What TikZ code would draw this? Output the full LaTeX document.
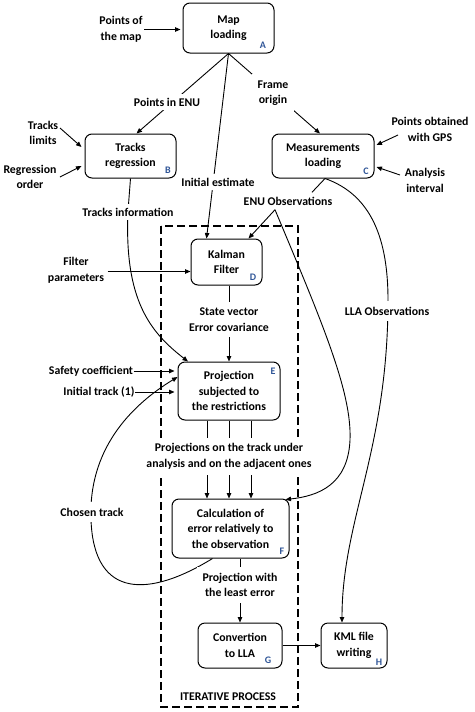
\documentclass[tikz,border=0pt]{standalone}
\usepackage{fontspec}
\setmainfont{Carlito}
\usetikzlibrary{arrows.meta,calc}
\definecolor{lblue}{HTML}{2F5597}
\begin{document}
\begin{tikzpicture}[x=1pt,y=-1pt,
  font=\fontsize{11.8}{15.5}\selectfont\bfseries,
  box/.style={draw,line width=1pt,rounded corners=7pt,align=center,inner sep=0pt},
  lbl/.style={align=center,fill=white,inner sep=4pt},
  tag/.style={text=lblue,font=\fontsize{10}{10}\selectfont\bfseries,inner sep=0pt},
  arr/.style={line width=0.9pt,-{Triangle[length=5.5pt,width=4.5pt]}},
  ln/.style={line width=0.9pt}]
\useasboundingbox (0,0) rectangle (474,712);
% dashed iterative frame
\draw[line width=1.6pt,dash pattern=on 8pt off 4pt] (161,226) rectangle (298,707);
% boxes
\node[box,minimum width=91pt,minimum height=50pt] (A) at (228.5,28) {Map\\loading};
\node[box,minimum width=91pt,minimum height=44pt] (B) at (130.5,156) {Tracks\\regression};
\node[box,minimum width=102pt,minimum height=44pt] (C) at (323,156) {Measurements\\loading};
\node[box,minimum width=71pt,minimum height=46pt] (D) at (226.5,262) {Kalman\\Filter};
\node[box,minimum width=102pt,minimum height=58pt] (E) at (229,391) {Projection\\subjected to\\the restrictions};
\node[box,minimum width=117pt,minimum height=59pt] (F) at (230.5,528.5) {Calculation of\\error relatively to\\the observation};
\node[box,minimum width=84pt,minimum height=45pt] (G) at (240,645.5) {Convertion\\to LLA};
\node[box,minimum width=66pt,minimum height=45pt] (H) at (354,645.5) {KML file\\writing};
% letter tags
\node[tag] (tA) at (263,45) {A};
\node[tag] (tB) at (168,170) {B};
\node[tag] (tC) at (366,171) {C};
\node[tag] (tD) at (253,277) {D};
\node[tag] (tE) at (273,371) {E};
\node[tag] (tF) at (282,551) {F};
\node[tag] (tG) at (268,660) {G};
\node[tag] (tH) at (379,662) {H};
% plain input texts
\node[align=center] (pmap) at (121,29.5) {Points of\\the map};
\node[align=center] (tlim) at (43,133) {Tracks\\limits};
\node[align=center] (rord) at (30,177) {Regression\\order};
\node[align=center] (pgps) at (430,129.5) {Points obtained\\with GPS};
\node[align=center] (aint) at (425,180.5) {Analysis\\interval};
\node[align=center] (fpar) at (76,270.5) {Filter\\parameters};
\node[align=center] (safe) at (91,371) {Safety coefficient};
\node[align=center] (itrk) at (99,392) {Initial track (1)};
\node (iter) at (228,697) {ITERATIVE PROCESS};
% input arrows
\draw[arr] ([xshift=-2]pmap.east) -- ([xshift=-2]pmap.east -| A.west);
\draw[arr] ([shift={(17,-5)}]tlim.center) -- ([shift={(-3,-9)}]B.west);
\draw[arr] ([shift={(30,0)}]rord.center) -- ([shift={(-3,10)}]B.west);
\draw[arr] ([shift={(-32,5.5)}]pgps.center) -- ([shift={(2,-11)}]C.east);
\draw[arr] ([shift={(-25,-5.5)}]aint.center) -- ([shift={(2,11)}]C.east);
\draw[arr] ([yshift=-1]fpar.east) -- ([yshift=-1]fpar.east -| D.west);
\draw[arr] ([xshift=-3]safe.east) -- ([xshift=-3]safe.east -| E.west);
\draw[arr] ([xshift=-3]itrk.east) -- ([xshift=-3]itrk.east -| E.west);
% connectors (labels drawn on top later)
\draw[arr] (A.south) -- ([xshift=6]B.north);
\draw[arr] (A.south) -- ([xshift=-3]C.north);
\draw[arr] (A.south) -- ([xshift=-20]D.north);
\draw[arr] (B.south) -- (128,211) .. controls (124,300) and (150,332) .. ([xshift=-41]E.north);
\draw[arr] (D.south -| E.north) -- (E.north);
\foreach \dx in {-22,0,22}
  \draw[arr] ([xshift=\dx]E.south) -- ([xshift=\dx]E.south |- F.north);
\draw[arr] (G.north |- F.south) -- (G.north);
\draw[arr] (G.east) -- (H.west);
\draw[arr] ([xshift=-18]F.south) .. controls (150,597) and (94,600) .. (91,520)
  .. controls (88,450) and (130,406) .. ([yshift=14]E.west);
\draw[arr] ([xshift=2]C.south) .. controls (372,195) and (388,240) .. (388,300)
  .. controls (388,450) and (342,520) .. ([xshift=-12]H.north);
% labels on connectors
\node[lbl] (penu) at (167,102) {Points in ENU};
\node[lbl,inner sep=6pt] (forig) at (273,93) {Frame\\origin};
\node[lbl] (iest) at (218,182) {Initial estimate};
\node[lbl] (tinfo) at (128,212) {Tracks information};
\node[lbl,inner sep=6pt] (svec) at (229,319.5) {State vector\\Error covariance};
\node[lbl,inner sep=6pt] (lla) at (387,311) {LLA Observations};
\node[lbl,inner sep=6pt] (proj) at (229,456.5) {Projections on the track under\\analysis and on the adjacent ones};
\node[lbl,inner sep=6pt] (chosen) at (92,512) {Chosen track};
\node[lbl,inner sep=6pt] (least) at (240,585) {Projection with\\the least error};
\node[align=center] (enu) at (288,201) {ENU Observations};
% ENU observation connectors
\draw[ln] ([xshift=2]C.south) -- ([shift={(24,-1)}]enu.north);
\draw[arr] ([shift={(-13,1)}]enu.south) -- ([xshift=22]D.north);
\draw[arr] ([shift={(-13,1)}]enu.south) .. controls (322,322) and (352,392) .. (350,440)
  .. controls (348,485) and (318,496) .. ([shift={(-4,1)}]F.north east);
\end{tikzpicture}
\end{document}
